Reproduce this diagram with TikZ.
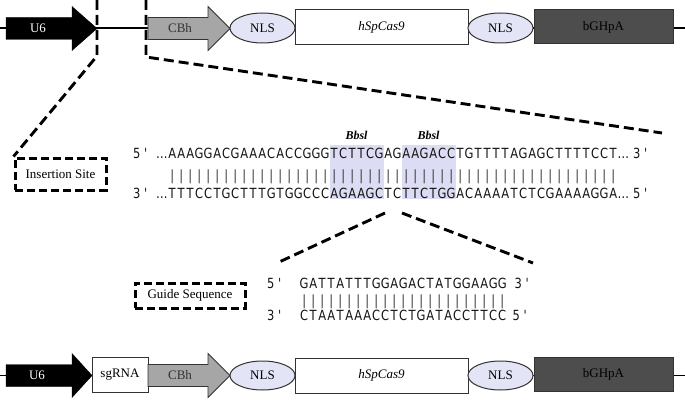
\documentclass[tikz,border=0pt]{standalone}
\usepackage{fontspec}
\setmainfont{Liberation Serif}
\newfontfamily\seqfont[FakeStretch=0.82]{DejaVu Sans}
\usetikzlibrary{shapes.geometric}
\definecolor{nlsfill}{HTML}{E4E4F7}
\definecolor{shadefill}{HTML}{DCDCF4}
\definecolor{cbhfill}{HTML}{A6A6A6}
\definecolor{bghfill}{HTML}{4D4D4D}
\definecolor{outl}{HTML}{333333}
\newcommand\seqgrid[1]{\seqgridi#1\relax}
\def\seqgridi#1{\ifx\relax#1\else\makebox[9pt]{#1}\expandafter\seqgridi\fi}
\newcommand\genearrow[5]{%
  \draw[#5] (#1,#4-11)--(#2,#4-11)--(#2,#4-22)--(#3,#4)--(#2,#4+22)--(#2,#4+11)--(#1,#4+11)--cycle;}
\begin{document}
\begin{tikzpicture}[x=1pt,y=-1pt,
  lbl/.style={font=\fontsize{13}{15}\selectfont, inner sep=0},
  genebox/.style={draw=outl, line width=1pt, inner sep=0, font=\fontsize{13}{15}\selectfont},
  nls/.style={ellipse, draw=outl, fill=nlsfill, line width=1pt, minimum width=65pt, inner sep=0, font=\fontsize{13}{15}\selectfont},
  zoomline/.style={line width=2.9pt, dash pattern=on 10pt off 5pt},
  dashbox/.style={draw, line width=3pt, dash pattern=on 8pt off 4pt, inner sep=0, font=\fontsize{13}{15}\selectfont},
  seq/.style={font=\seqfont\fontsize{14}{16}\selectfont, inner sep=0, anchor=base west, text=black!92},
  bars/.style={font=\seqfont\fontsize{14}{16}\selectfont, inner sep=0, anchor=base west, text=black!80},
  shade/.style={fill=shadefill, inner sep=0, minimum width=54pt, minimum height=54pt},
  enz/.style={font=\fontsize{12}{14}\selectfont\bfseries\itshape, inner sep=0},
  backbone/.style={line width=1.2pt}
]
\fill[white] (0,0) rectangle (685,401);
\useasboundingbox (0,0) rectangle (685,401);

% ---------- top construct ----------
\coordinate (bbL1) at (0,28);
\coordinate (bbR1) at (685,28);
\draw[backbone] (bbL1) -- (bbR1);
\genearrow{6}{72}{97}{28.5}{fill=black, draw=black}
\node[lbl, text=white] (u6a) at (38,28.5) {U6};
\genearrow{148}{208}{230}{28.5}{fill=cbhfill, draw=outl, line width=0.8pt}
\node[lbl, text=black!80] (cbha) at (180,28.5) {CBh};
\node[nls, minimum height=30pt] (nls1a) at (262.5,28) {NLS};
\node[genebox, fill=white, minimum width=173pt, minimum height=35pt] (casa) at (381.5,27.5) {\textit{hSpCas9}};
\node[nls, minimum height=30pt] (nls2a) at (500.5,28) {NLS};
\node[genebox, fill=bghfill, minimum width=139pt, minimum height=34pt] (bgha) at (603.5,27) {bGHpA};

% ---------- insertion site ----------
\node[dashbox, minimum width=91pt, minimum height=32pt] (ins) at (60.5,174) {Insertion Site};
\coordinate (z1top) at (97,0);
\coordinate (z1bend) at (97,56);
\draw[zoomline] (z1top) -- (z1bend) -- (ins.north west);
\coordinate (z2top) at (146,0);
\coordinate (z2bend) at (146,57);
\coordinate (z2end) at (662,133);
\draw[zoomline] (z2top) -- (z2bend) -- (z2end);

\node[shade] (sh1) at (356.5,172) {};
\node[shade] (sh2) at (428.5,172) {};
\node[enz] (bbs1) at (356.5,135) {Bbsl};
\node[enz] (bbs2) at (428.5,135) {Bbsl};

\node[seq] (topseq) at (133,158) {\makebox[34.5pt][s]{5 '\hfill…}\seqgrid{AAAGGACGAAACACCGGGTCTTCGAGAAGACCTGTTTTAGAGCTTTTCCT}…\hspace{4pt}3 '};
\node[bars] (topbars) at (167.5,180) {\seqgrid{||||||||||||||||||||||||||||||||||||||||||||||||||}};
\node[seq] (botseq) at (133,198) {\makebox[34.5pt][s]{3 '\hfill…}\seqgrid{TTTCCTGCTTTGTGGCCCAGAAGCTCTTCTGGACAAAATCTCGAAAAGGA}…\hspace{4pt}5 '};

% ---------- guide sequence ----------
\coordinate (g1a) at (385,213);
\coordinate (g1b) at (277,263);
\coordinate (g2a) at (402,213);
\coordinate (g2b) at (533,263);
\draw[zoomline] (g1a) -- (g1b);
\draw[zoomline] (g2a) -- (g2b);
\node[dashbox, minimum width=110pt, minimum height=25pt] (guide) at (190,295.5) {Guide Sequence};
\node[seq] (gtop) at (267,288.5) {\makebox[32.5pt][l]{5 '}\seqgrid{GATTATTTGGAGACTATGGAAGG}\hspace{8pt}3 '};
\node[bars] (gbars) at (299.5,305) {\seqgrid{|||||||||||||||||||||||}};
\node[seq] (gbot) at (267,320.5) {\makebox[32.5pt][l]{3 '}\seqgrid{CTAATAAACCTCTGATACCTTCC}\hspace{6pt}5 '};

% ---------- bottom construct ----------
\coordinate (bbL2) at (0,375.5);
\coordinate (bbR2) at (685,375.5);
\draw[backbone] (bbL2) -- (bbR2);
\genearrow{6}{72}{92}{375.5}{fill=black, draw=black}
\node[lbl, text=white] (u6b) at (37,375.5) {U6};
\node[genebox, fill=white, minimum width=56pt, minimum height=35pt] (sgrna) at (120,374.5) {sgRNA};
\genearrow{148}{208}{230}{375.5}{fill=cbhfill, draw=outl, line width=0.8pt}
\node[lbl, text=black!80] (cbhb) at (180,375.5) {CBh};
\node[nls, minimum height=29pt] (nls1b) at (262.5,375.5) {NLS};
\node[genebox, fill=white, minimum width=173pt, minimum height=35pt] (casb) at (381.5,375.5) {\textit{hSpCas9}};
\node[nls, minimum height=29pt] (nls2b) at (500.5,375.5) {NLS};
\node[genebox, fill=bghfill, minimum width=139pt, minimum height=34pt] (bghb) at (603.5,374) {bGHpA};
\end{tikzpicture}
\end{document}
